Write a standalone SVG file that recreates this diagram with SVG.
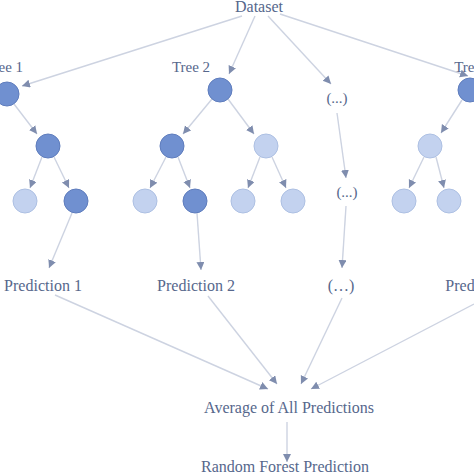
<svg xmlns="http://www.w3.org/2000/svg" width="474" height="474" viewBox="0 0 474 474">
<style>
text{font-family:"Liberation Serif","Times New Roman",serif;fill:#56678c;text-anchor:middle}
.lbl{font-size:16px}
.sm{font-size:15px}
.dark{fill:#7090d0;stroke:#5f7dbd;stroke-width:1}
.light{fill:#c3d2ef;stroke:#adc0e3;stroke-width:1}
.edge{stroke:#cdd3e1;stroke-width:1.4;fill:none;marker-end:url(#ah)}
</style>
<defs>
<marker id="ah" markerUnits="userSpaceOnUse" markerWidth="10" markerHeight="10" refX="8" refY="4" orient="auto">
<path d="M0,0 L8,4 L0,8 z" fill="#7f8dae"/>
</marker>
</defs>
<rect width="474" height="474" fill="#ffffff"/>
<g id="connectors">
<line class="edge" x1="242" y1="16" x2="22" y2="86"/>
<line class="edge" x1="255" y1="16" x2="229" y2="74"/>
<line class="edge" x1="268" y1="16" x2="331" y2="84"/>
<line class="edge" x1="280" y1="14" x2="468" y2="76"/>
<line class="edge" x1="14" y1="104" x2="37" y2="134"/>
<line class="edge" x1="42" y1="157" x2="30" y2="188"/>
<line class="edge" x1="54" y1="157" x2="69" y2="188"/>
<line class="edge" x1="72" y1="213" x2="49" y2="268"/>
<line class="edge" x1="212" y1="99" x2="183" y2="134"/>
<line class="edge" x1="228" y1="99" x2="254" y2="134"/>
<line class="edge" x1="166" y1="157" x2="150" y2="188"/>
<line class="edge" x1="178" y1="157" x2="190" y2="188"/>
<line class="edge" x1="260" y1="157" x2="248" y2="188"/>
<line class="edge" x1="272" y1="157" x2="286" y2="188"/>
<line class="edge" x1="197" y1="213" x2="201" y2="270"/>
<line class="edge" x1="337" y1="113" x2="346" y2="178"/>
<line class="edge" x1="346" y1="206" x2="342" y2="268"/>
<line class="edge" x1="462" y1="100" x2="441" y2="133"/>
<line class="edge" x1="424" y1="157" x2="409" y2="188"/>
<line class="edge" x1="436" y1="157" x2="444" y2="188"/>
<line class="edge" x1="55" y1="295" x2="268" y2="389"/>
<line class="edge" x1="208" y1="296" x2="277" y2="384"/>
<line class="edge" x1="342" y1="298" x2="301" y2="384"/>
<line class="edge" x1="474" y1="304" x2="311" y2="389"/>
<line class="edge" x1="287" y1="422" x2="287" y2="462"/>
</g>
<g id="dataset"><text class="lbl" x="259" y="12">Dataset</text></g>
<g id="tree1">
<text class="sm" x="4" y="72">Tree 1</text>
<circle class="dark" cx="7" cy="94" r="12"/>
<circle class="dark" cx="48" cy="146" r="12"/>
<circle class="light" cx="25" cy="201" r="12"/>
<circle class="dark" cx="76" cy="201" r="12"/>
</g>
<g id="tree2">
<text class="sm" x="191" y="72">Tree 2</text>
<circle class="dark" cx="220" cy="90" r="12"/>
<circle class="dark" cx="172" cy="146" r="12"/>
<circle class="light" cx="266" cy="146" r="12"/>
<circle class="light" cx="145" cy="201" r="12"/>
<circle class="dark" cx="195" cy="201" r="12"/>
<circle class="light" cx="243" cy="201" r="12"/>
<circle class="light" cx="293" cy="201" r="12"/>
</g>
<g id="tree-dots">
<text class="sm" x="337" y="103">(...)</text>
<text class="sm" x="347" y="197">(...)</text>
</g>
<g id="treeN">
<text class="sm" x="475" y="72">Tree N</text>
<circle class="dark" cx="470" cy="90" r="12"/>
<circle class="light" cx="430" cy="146" r="12"/>
<circle class="light" cx="404" cy="201" r="12"/>
<circle class="light" cx="449" cy="201" r="12"/>
</g>
<g id="pred1"><text class="lbl" x="43" y="291">Prediction 1</text></g>
<g id="pred2"><text class="lbl" x="196" y="291">Prediction 2</text></g>
<g id="pred-dots"><text class="lbl" x="341" y="291">(…)</text></g>
<g id="predN"><text class="lbl" x="486" y="291">Prediction N</text></g>
<g id="average"><text class="lbl" x="289" y="413">Average of All Predictions</text></g>
<g id="rf"><text class="lbl" x="285" y="472">Random Forest Prediction</text></g>
</svg>
